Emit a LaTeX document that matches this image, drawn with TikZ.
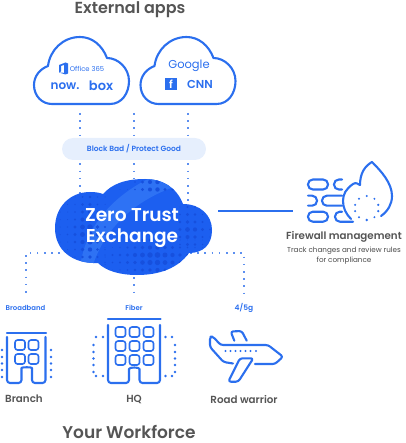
\documentclass[tikz,border=0pt]{standalone}
\usepackage{fontspec}
\setmainfont[BoldFont={Poppins SemiBold}]{Poppins}
\definecolor{zblue}{HTML}{2B6FEE}
\definecolor{zfill}{HTML}{1C5FF0}
\definecolor{zdark}{HTML}{1650DE}
\definecolor{zlite}{HTML}{2E72F4}
\definecolor{zdot}{HTML}{5C8FF0}
\definecolor{zpill}{HTML}{E6EFFD}
\definecolor{zgrey}{HTML}{555555}
\tikzset{
  icon/.style={draw=zblue,line width=2.1pt,line join=round,line cap=round},
  thin icon/.style={draw=zblue,line width=1.6pt,line join=round,line cap=round},
  dotline/.style={draw=zdot,line width=1.5pt,dash pattern=on 1.6pt off 5.6pt},
  dotmark/.style={fill=zblue,draw=none},
  head/.style={text=zgrey,font=\fontsize{16}{18}\selectfont\bfseries,inner sep=0pt},
  sub/.style={text=zgrey,font=\fontsize{10.3}{13}\selectfont\bfseries,inner sep=0pt},
  small/.style={text=zblue,font=\fontsize{6.9}{8}\selectfont\bfseries,inner sep=0pt},
  note/.style={text=zgrey!85!black,font=\fontsize{7.2}{10}\selectfont,inner sep=0pt,align=center},
  logo/.style={text=zblue,inner sep=0pt},
}
\newcommand{\cloudoutline}{(52,104) -- (110,104) .. controls (122,104) and (129,93) .. (129,81) .. controls (129,68) and (118,58) .. (107,58) .. controls (102,45) and (92,37) .. (80,37) .. controls (63,37) and (50,50) .. (48,66) .. controls (40,69) and (34,76) .. (34,85) .. controls (34,96) and (42,104) .. (52,104) -- cycle}
\newcommand{\ztepath}{(55,228) .. controls (55,207) and (70,192) .. (90,192) .. controls (97,192) and (100,193) .. (103,194) .. controls (112,184) and (125,179) .. (145,179) .. controls (163,179) and (177,188) .. (183,204) .. controls (200,204) and (212,215) .. (212,230) .. controls (212,245) and (203,253) .. (189,253) .. controls (178,268) and (160,275) .. (137,275) .. controls (120,275) and (106,271) .. (98,263) .. controls (72,264) and (55,250) .. (55,228) -- cycle}
\newcommand{\bldwin}[2]{\draw[thin icon,rounded corners=2.5pt] (#1,#2) rectangle ++(10,10);}
\begin{document}
\begin{tikzpicture}[x=1pt,y=-1pt]
\useasboundingbox (0,0) rectangle (405,443);
% dotted connectors
\coordinate (ua) at (80,113); \coordinate (ub) at (134,113); \coordinate (uc) at (188,113);
\coordinate (da) at (80,195); \coordinate (db) at (134,195); \coordinate (dc) at (188,205);
\draw[dotline] (ua) -- (da);
\draw[dotline] (ub) -- (db);
\draw[dotline] (uc) -- (dc);
\coordinate (left end) at (26,297); \coordinate (left start) at (60,253);
\coordinate (right start) at (190,253); \coordinate (right end) at (244,297);
\coordinate (mid start) at (134,270); \coordinate (mid end) at (134,297);
\draw[dotline] (left start) -- (26,253) -- (left end);
\draw[dotline] (right start) -- (244,253) -- (right end);
\draw[dotline] (mid start) -- (mid end);
% pill
\node[fill=zpill,rounded corners=11pt,minimum width=144pt,minimum height=22pt,inner sep=0pt] (pill) at (134,149) {};
\node[small,font=\fontsize{7.5}{8}\selectfont\bfseries] (pilltext) at (134,149) {Block Bad / Protect Good};
% clouds
\draw[icon] \cloudoutline;
\begin{scope}[xshift=106.5pt]
\draw[icon] \cloudoutline;
\end{scope}
% logos left
\node[logo,font=\fontsize{6.8}{9}\selectfont] (o365) at (87,68.5) {Office 365};
\path[fill=zblue] (59,65) -- (65.5,62.5) -- (68,63.5) -- (68,73.5) -- (65.5,74.5) -- (59,72.5) -- (64,72.8) -- (64,65) -- (61,66) -- (61,71.5) -- (59,72.5) -- cycle;
\node[logo,font=\fontsize{12}{15}\selectfont\bfseries] (now) at (65,86.5) {now.};
\node[logo,font=\fontsize{13}{15}\selectfont\bfseries] (box) at (101,85.5) {box};
% logos right
\node[logo,font=\fontsize{11.5}{15}\selectfont] (google) at (189,65.5) {Google};
\node[fill=zblue,minimum size=11.5pt,inner sep=0pt,text=white,font=\fontsize{11}{11}\selectfont\bfseries] (fb) at (171,84) {f};
\node[logo,font=\fontsize{11.5}{15}\selectfont\bfseries] (cnn) at (200,84) {CNN};
% ZTE cloud
\begin{scope}
\clip \ztepath;
\fill[zfill] (50,175) rectangle (215,280);
\fill[zlite] (92,268) .. controls (105,225) and (140,195) .. (190,182) -- (150,178) .. controls (115,195) and (85,225) .. (80,268) -- cycle;
\foreach \x in {60,67.5,...,110} \foreach \y in {197,204.5,...,270} {
  \pgfmathsetmacro{\rr}{max(0.5,3.2-abs(\x-88)/9-abs(\y-232)/22)}
  \fill[zdark] (\x,\y) circle (\rr pt);
}
\foreach \x in {105,112.5,...,205} \foreach \y in {240,247.5,...,275} {
  \pgfmathsetmacro{\rr}{max(0.4,3.2-abs(\x-155)/22-abs(\y-258)/12)}
  \fill[zdark] (\x,\y) circle (\rr pt);
}
\foreach \x in {120,127.5,...,180} \foreach \y in {182,189.5} {
  \pgfmathsetmacro{\rr}{max(0.4,2.4-abs(\x-155)/14)}
  \fill[zdark] (\x,\y) circle (\rr pt);
}
\foreach \x in {180,187.5,...,212} \foreach \y in {207,214.5,...,250} {
  \pgfmathsetmacro{\rr}{max(0.4,2.6-abs(\x-190)/12-abs(\y-230)/18)}
  \fill[zdark] (\x,\y) circle (\rr pt);
}
\end{scope}
\node[text=white,font=\fontsize{18.6}{21}\selectfont\bfseries,align=center,inner sep=0pt] (zte) at (132,228.5) {Zero Trust\\Exchange};
% firewall connector
\coordinate (zteright) at (218,211);
\coordinate (fwleft) at (293,211);
\draw[draw=zblue,line width=1.8pt] (zteright) -- (fwleft);
% firewall bricks and flame
\begin{scope}[icon]
\draw[rounded corners=4.8pt] (308,179.5) rectangle (328,189.5);
\draw[rounded corners=4.8pt] (342,179.5) -- (334,179.5) -- (334,189.5) -- (342,189.5);
\draw[rounded corners=4.8pt] (308,195.7) -- (317,195.7) -- (317,205.7) -- (308,205.7);
\draw[rounded corners=4.8pt] (342,195.7) -- (322,195.7) -- (322,205.7) -- (342,205.7);
\draw[rounded corners=4.8pt] (308,211.7) rectangle (328,221.7);
\draw[rounded corners=4.8pt] (353,221.7) -- (335,221.7) -- (335,211.7) -- (342,211.7);
\draw (381,216) .. controls (388,211) and (392,204) .. (392,196) .. controls (392,183) and (381,171) .. (372,162) .. controls (365,166) and (360,173) .. (360,185) .. controls (358,184) and (356,182) .. (353,184) .. controls (346,189) and (343,194) .. (343,201) .. controls (343,208) and (346,214) .. (351,219);
\end{scope}
\foreach \a/\r in {90/1.2,50/1.1,15/1.2,-15/1.2,-50/1.1,-90/1.3,-130/1.1,-165/1.2,165/1.2,130/1.1}
  \fill[dotmark] (366.7,208) ++(\a:12pt) circle (\r pt);
\node[sub] (fwtitle) at (344,237) {Firewall management};
\node[note] (fwnote) at (344,256) {Track changes and review rules\\for compliance};
% link labels
\node[small] (bb) at (25.5,308) {Broadband};
\node[small] (fiber) at (134,308) {Fiber};
\node[small,font=\fontsize{7.5}{8}\selectfont\bfseries] (fg) at (244,308) {4/5g};
% Branch
\draw[icon] (7,333) -- (46,333);
\draw[icon,rounded corners=3pt] (7,337) -- (7,383) -- (21.5,383) -- (21.5,371) .. controls (21.5,367) and (32,367) .. (32,371) -- (32,383) -- (45.5,383) -- (45.5,337);
\bldwin{15}{340}\bldwin{28.5}{340}\bldwin{15}{354}\bldwin{28.5}{354}
\foreach \y in {350,357,363.5,370,377} {\fill[dotmark] (2,\y) circle (1.3pt); \fill[dotmark] (51,\y) circle (1.3pt);}
% HQ
\draw[icon] (108,319) -- (160.5,319);
\draw[icon,rounded corners=3pt] (108,325) -- (108,383) -- (129,383) -- (129,372) .. controls (129,367) and (139.5,367) .. (139.5,372) -- (139.5,383) -- (160,383) -- (160,325);
\foreach \x in {115.5,129.5,143.5} \foreach \y in {327,341,355} {\bldwin{\x}{\y}}
\foreach \y in {345,352,358.5,365,372} {\fill[dotmark] (93.5,\y) circle (1.3pt); \fill[dotmark] (175,\y) circle (1.3pt);}
\foreach \p in {(96,337),(103,337),(96,376),(103,376),(165.5,337),(172,337),(165.5,376),(172,376)} {\fill[dotmark] \p circle (1.3pt);}
% Plane
\begin{scope}[icon]
\draw[rounded corners=2.5pt] (233,363.5) -- (223.5,362) -- (210,347) -- (210,336.7) -- (213,336.7) -- (220.7,345) -- (268,345) -- (283,356.7) -- (275,364) -- (255,364);
\draw[rounded corners=2.5pt] (234.3,340.7) -- (230.7,331.5) -- (241.7,331) -- (246.7,340.7);
\draw[rounded corners=2.5pt] (240,358.3) -- (253.3,358.3) -- (238.3,381.7) -- (228.3,381.7) -- cycle;
\end{scope}
\foreach \x in {225.5,230.5,235.5,240.5,245.5,250.5,256} \fill[dotmark] (\x,351) circle (1.2pt);
% titles
\node[head] (ext) at (130,10) {External apps};
\node[head,font=\fontsize{17}{18}\selectfont\bfseries] (work) at (129,432) {Your Workforce};
\node[sub] (branch) at (24,399) {Branch};
\node[sub] (hq) at (134,399) {HQ};
\node[sub] (road) at (244,400) {Road warrior};
\end{tikzpicture}
\end{document}
